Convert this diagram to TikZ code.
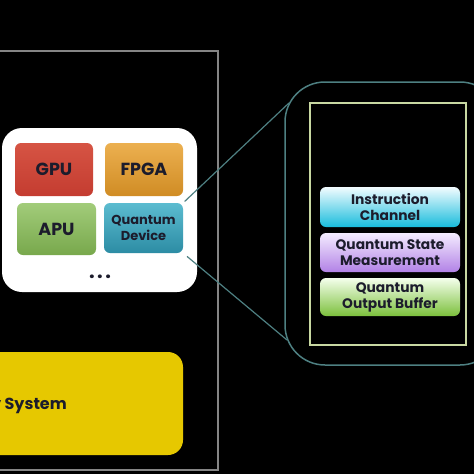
\documentclass[tikz,border=0pt]{standalone}
\usepackage{fontspec}
\setmainfont{Poppins}
\usetikzlibrary{calc}
\definecolor{txt}{HTML}{1C1C2C}
\definecolor{framegray}{HTML}{858585}
\definecolor{teal}{HTML}{4E8082}
\definecolor{innerg}{HTML}{C8D8A2}
\definecolor{memy}{HTML}{E6C800}
\definecolor{gpuT}{HTML}{D65444}\definecolor{gpuB}{HTML}{C43C30}
\definecolor{fpgaT}{HTML}{ECB050}\definecolor{fpgaB}{HTML}{D08C24}
\definecolor{apuT}{HTML}{A2CC7A}\definecolor{apuB}{HTML}{78A84C}
\definecolor{qdT}{HTML}{5CBCD0}\definecolor{qdB}{HTML}{2C8CA4}
\definecolor{icT}{HTML}{F2FCFF}\definecolor{icB}{HTML}{18BCDC}
\definecolor{qsT}{HTML}{F4ECFF}\definecolor{qsB}{HTML}{B282E6}
\definecolor{qoT}{HTML}{F4FFEC}\definecolor{qoB}{HTML}{7CC03C}
\begin{document}
\begin{tikzpicture}[x=1pt,y=-1pt,
  tile/.style={rounded corners=6pt, inner sep=0pt, text=txt, align=center,
    font=\bfseries\fontsize{17.5}{18}\selectfont},
  qtile/.style={rounded corners=6pt, inner sep=0pt, text=txt, align=center,
    font=\bfseries\fontsize{13}{15.5}\selectfont},
  rtile/.style={rounded corners=6pt, inner sep=0pt, text=txt, align=center,
    minimum width=140pt, font=\bfseries\fontsize{13.8}{16}\selectfont},
  link/.style={draw=teal, line width=1.2pt}]
\fill[black] (0,0) rectangle (474,474);
\useasboundingbox (0,0) rectangle (474,474);
% outer frame
\node[draw=framegray, line width=2pt, minimum width=240pt, minimum height=419pt, inner sep=0pt] (frame) at (98,260.5) {};
% memory box
\node[fill=memy, rounded corners=15pt, minimum width=213pt, minimum height=103pt, inner sep=0pt] (mem) at (76.5,403.5) {};
\node[anchor=base east, text=txt, font=\bfseries\fontsize{16}{17}\selectfont, inner sep=0pt] (memlabel) at (67,409) {Memory System};
% white box
\node[fill=white, rounded corners=20pt, minimum width=195pt, minimum height=164pt, inner sep=0pt] (wbox) at (99.5,210) {};
\node[tile, minimum width=78pt, minimum height=53pt, top color=gpuT, bottom color=gpuB] (gpu) at (54,169.5) {GPU};
\node[tile, minimum width=78pt, minimum height=53pt, top color=fpgaT, bottom color=fpgaB] (fpga) at (144,169.5) {FPGA};
\node[tile, minimum width=79pt, minimum height=52pt, top color=apuT, bottom color=apuB] (apu) at (56.5,229) {APU};
\node[qtile, minimum width=79pt, minimum height=50pt, top color=qdT, bottom color=qdB] (qdev) at (143.5,228) {Quantum\\Device};
\node[text=txt, font=\bfseries\fontsize{20}{20}\selectfont, inner sep=0pt, anchor=base] (dots) at (100,278) {.\hspace{2.5pt}.\hspace{2.5pt}.};
% zoom box
\node[draw=teal, line width=1.5pt, rounded corners=40pt, minimum width=215pt, minimum height=283pt, inner sep=0pt] (zoombox) at (392.5,223.5) {};
\node[draw=innerg, line width=2pt, minimum width=156pt, minimum height=242pt, inner sep=0pt] (inner) at (388,224) {};
\node[rtile, minimum height=40pt, top color=icT, bottom color=icB] (ic) at (390,207) {Instruction\\Channel};
\node[rtile, minimum height=39pt, top color=qsT, bottom color=qsB] (qsm) at (390,252.5) {Quantum State\\Measurement};
\node[rtile, minimum height=38pt, top color=qoT, bottom color=qoB] (qob) at (390,297) {Quantum\\Output Buffer};
% connectors
\coordinate (c1) at (289,103);
\coordinate (c2) at (287,340);
\draw[link, shorten <=2pt] (qdev.north east) -- (c1);
\draw[link, shorten <=5pt] (qdev.south east) -- (c2);
\end{tikzpicture}
\end{document}
